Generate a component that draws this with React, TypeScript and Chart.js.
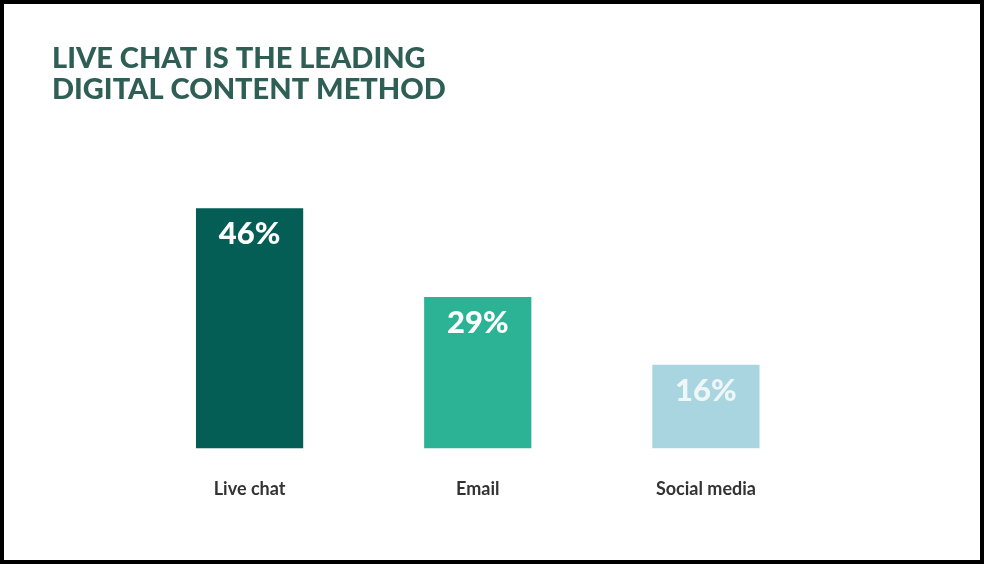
import React, { useEffect, useRef } from "react";
import { Chart, registerables } from "chart.js";

Chart.register(...registerables);

const titleLines = ["LIVE CHAT IS THE LEADING", "DIGITAL CONTENT METHOD"];
const categories = ["Live chat", "Email", "Social media"];
const values = [46, 29, 16];
const barColors = ["#045e56", "#2cb396", "#a8d5df"];
const labelColors = ["#ffffff", "#ffffff", "#eef6f7"];

const valueLabels = {
  id: "valueLabels",
  afterDatasetsDraw(chart: any) {
    const ctx = chart.ctx;
    const meta = chart.getDatasetMeta(0);
    ctx.save();
    ctx.font = "900 31px Lato";
    ctx.textAlign = "center";
    ctx.textBaseline = "middle";
    meta.data.forEach((bar: any, i: number) => {
      ctx.fillStyle = labelColors[i];
      ctx.fillText(values[i] + "%", bar.x, bar.y + 26);
    });
    ctx.restore();
  },
};

export default function App() {
  const ref = useRef<HTMLCanvasElement>(null);
  useEffect(() => {
    const chart = new Chart(ref.current!, {
      type: "bar",
      data: {
        labels: categories,
        datasets: [
          {
            data: values,
            backgroundColor: barColors,
            barPercentage: 0.47,
            categoryPercentage: 1,
          },
        ],
      },
      options: {
        animation: false,
        responsive: false,
        layout: { padding: { left: 48, right: 160, top: 0, bottom: 30 } },
        plugins: {
          legend: { display: false },
          tooltip: { enabled: false },
          title: {
            display: true,
            text: titleLines,
            align: "start",
            color: "#2f5e55",
            font: { family: "Lato", weight: "900", size: 29, lineHeight: 1.04 },
            padding: { top: 40, bottom: 83 },
          },
        },
        scales: {
          x: {
            grid: { display: false, drawTicks: false },
            border: { display: false },
            ticks: {
              color: "#333333",
              font: { family: "Lato", weight: "bold", size: 18 },
              padding: 30,
            },
          },
          y: {
            min: 0,
            max: 50,
            grid: { display: false, drawTicks: false },
            border: { display: false },
            ticks: { display: false },
            afterFit: (scale: any) => {
              scale.width = 83.5;
            },
          },
        },
      },
      plugins: [valueLabels],
    });
    return () => chart.destroy();
  }, []);
  return (
    <div
      style={{
        position: "fixed",
        left: 0,
        top: 0,
        width: 984,
        height: 564,
        boxSizing: "border-box",
        border: "4px solid #000",
        background: "#fff",
      }}
    >
      <canvas ref={ref} width={976} height={556} style={{ display: "block" }} />
    </div>
  );
}
